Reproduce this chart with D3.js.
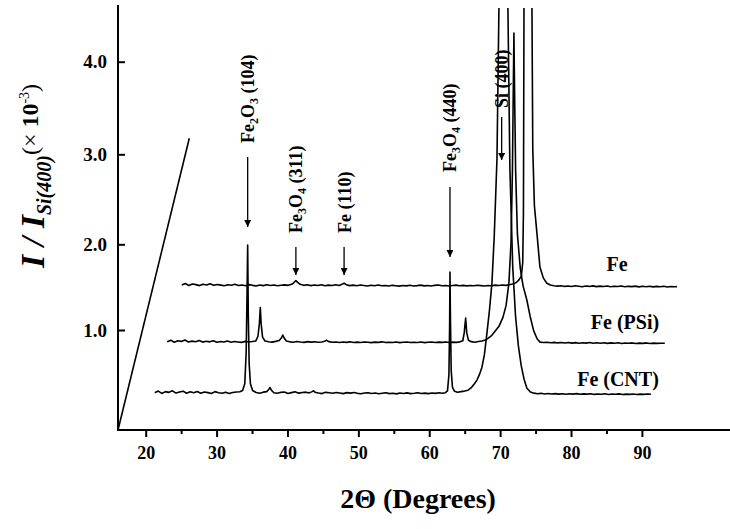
<!DOCTYPE html>
<html><head><meta charset="utf-8">
<script src="https://cdn.jsdelivr.net/npm/d3@7"></script>
<style>
body{margin:0;background:#fff}
svg{display:block}
text{font-family:"Liberation Serif","Times New Roman",serif;font-weight:bold;fill:#000}
</style>
</head><body>
<svg id="chart" width="730" height="529"></svg>
<script>
// ---------- data ----------
const xTicks = [20,30,40,50,60,70,80,90];
const xMinorTicks = [25,35,45,55,65,75,85];
const yTicks = [1.0,2.0,3.0,4.0];
const seriesNames = ["Fe","Fe (PSi)","Fe (CNT)"];

// [2θ, I/I_Si(400) ×10^-3]
const feData = [[20.4,.102],[20.9,.118],[21.4,.096],[21.9,.112],[22.4,.105],[22.9,.094],[23.4,.110],[23.9,.101],[24.4,.115],[24.9,.097],[25.4,.106],[25.9,.099],[26.4,.092],[26.9,.104],[27.4,.098],[27.9,.108],[28.4,.095],[28.9,.101],[29.4,.093],[29.9,.105],[30.4,.097],[30.9,.090],[31.4,.100],[31.9,.094],[32.4,.103],[32.9,.096],[33.4,.100],[33.9,.092],[34.4,.098],[34.9,.102],[35.4,.097],[35.9,.108],[36.2,.125],[36.5,.150],[36.75,.130],[37.1,.108],[37.6,.097],[38.1,.103],[38.6,.094],[39.1,.100],[39.6,.095],[40.1,.104],[40.6,.093],[41.1,.099],[41.6,.096],[42.1,.103],[42.6,.095],[43.0,.108],[43.3,.120],[43.6,.104],[44.1,.094],[44.6,.099],[45.1,.092],[45.6,.100],[46.1,.096],[46.6,.090],[47.1,.098],[47.6,.093],[48.1,.101],[48.6,.092],[49.1,.096],[49.6,.089],[50.1,.097],[50.6,.093],[51.1,.088],[51.6,.095],[52.1,.091],[52.6,.098],[53.1,.090],[53.6,.094],[54.1,.099],[54.6,.091],[55.1,.095],[55.6,.089],[56.1,.097],[56.6,.100],[57.1,.092],[57.6,.096],[58.1,.090],[58.6,.095],[59.1,.099],[59.6,.093],[60.1,.097],[60.6,.091],[61.1,.095],[61.6,.092],[62.1,.098],[62.6,.094],[63.1,.090],[63.6,.096],[64.1,.093],[64.6,.099],[65.1,.095],[65.6,.100],[66.1,.097],[66.6,.104],[67.1,.112],[67.6,.128],[68.0,.16],[68.3,.20],[68.5,.35],[68.6,.9],[68.68,3.2],[69.24,30],[69.8,3.2],[69.92,1.6],[70.15,.98],[70.5,.68],[70.93,.30],[71.4,.18],[71.9,.12],[72.4,.100],[72.9,.092],[73.4,.088],[73.9,.093],[74.4,.085],[74.9,.090],[75.4,.084],[75.9,.092],[76.4,.087],[76.9,.082],[77.4,.089],[77.9,.085],[78.4,.091],[78.9,.083],[79.4,.088],[79.9,.084],[80.4,.090],[80.9,.082],[81.4,.087],[81.9,.084],[82.4,.089],[82.9,.081],[83.4,.086],[83.9,.083],[84.4,.088],[84.9,.080],[85.4,.086],[85.9,.082],[86.4,.087],[86.9,.080],[87.4,.085],[87.9,.082],[88.4,.086],[88.9,.079],[89.4,.084],[89.9,.081],[90.25,.083]];

const psiData = [[20.3,.100],[20.8,.116],[21.3,.094],[21.8,.110],[22.3,.103],[22.8,.118],[23.3,.097],[23.8,.106],[24.3,.099],[24.8,.112],[25.3,.095],[25.8,.104],[26.3,.098],[26.8,.109],[27.3,.093],[27.8,.102],[28.3,.096],[28.8,.107],[29.3,.094],[29.8,.101],[30.3,.097],[30.8,.092],[31.3,.103],[31.8,.096],[32.3,.101],[32.8,.108],[33.1,.16],[33.3,.30],[33.43,.478],[33.55,.30],[33.75,.15],[34.1,.108],[34.6,.099],[35.1,.095],[35.6,.103],[36.1,.112],[36.4,.14],[36.6,.174],[36.8,.14],[37.1,.108],[37.6,.098],[38.1,.094],[38.6,.101],[39.1,.096],[39.6,.092],[40.1,.100],[40.6,.095],[41.1,.099],[41.6,.093],[42.1,.097],[42.5,.104],[42.8,.115],[43.1,.100],[43.6,.094],[44.1,.097],[44.6,.091],[45.1,.096],[45.6,.092],[46.1,.098],[46.6,.090],[47.1,.095],[47.6,.091],[48.1,.097],[48.6,.093],[49.1,.089],[49.6,.095],[50.1,.092],[50.6,.098],[51.1,.090],[51.6,.094],[52.1,.091],[52.6,.096],[53.1,.089],[53.6,.093],[54.1,.097],[54.6,.090],[55.1,.094],[55.6,.091],[56.1,.096],[56.6,.089],[57.1,.093],[57.6,.097],[58.1,.090],[58.6,.095],[59.1,.092],[59.6,.097],[60.1,.091],[60.6,.095],[61.1,.092],[61.6,.098],[62.0,.11],[62.2,.20],[62.4,.363],[62.55,.20],[62.8,.115],[63.2,.100],[63.7,.094],[64.2,.102],[64.7,.108],[65.2,.118],[65.6,.14],[66.1,.17],[66.6,.22],[67.1,.27],[67.66,.37],[68.1,.50],[68.5,.75],[68.8,1.2],[69.0,2.0],[69.12,2.9],[69.21,3.53],[69.3,2.9],[69.45,2.0],[69.7,1.3],[70.1,.92],[70.5,.72],[71.04,.56],[71.5,.38],[72.0,.22],[72.5,.13],[72.9,.095],[73.4,.090],[73.9,.094],[74.4,.088],[74.9,.092],[75.4,.086],[75.9,.091],[76.4,.085],[76.9,.090],[77.4,.084],[77.9,.089],[78.4,.083],[78.9,.088],[79.4,.084],[79.9,.090],[80.4,.082],[80.9,.087],[81.4,.083],[81.9,.088],[82.4,.081],[82.9,.086],[83.4,.083],[83.9,.087],[84.4,.080],[84.9,.085],[85.4,.082],[85.9,.086],[86.4,.080],[86.9,.084],[87.4,.081],[87.9,.086],[88.4,.080],[88.9,.084],[89.4,.081],[89.9,.083],[90.5,.082]];

const cntData = [[20.3,.100],[20.8,.118],[21.3,.092],[21.8,.112],[22.3,.104],[22.8,.121],[23.3,.096],[23.8,.108],[24.3,.117],[24.8,.094],[25.3,.110],[25.8,.099],[26.3,.114],[26.8,.095],[27.3,.107],[27.8,.101],[28.3,.091],[28.8,.112],[29.3,.100],[29.8,.094],[30.3,.106],[30.8,.090],[31.3,.103],[31.8,.108],[32.3,.110],[32.7,.125],[33.0,.20],[33.2,.55],[33.32,1.20],[33.41,1.74],[33.5,.95],[33.62,.42],[33.8,.20],[34.1,.125],[34.6,.102],[35.1,.094],[35.6,.106],[36.1,.112],[36.4,.138],[36.56,.158],[36.75,.128],[37.1,.100],[37.6,.093],[38.1,.104],[38.6,.108],[39.1,.092],[39.6,.101],[40.1,.110],[40.6,.095],[41.1,.102],[41.6,.106],[42.1,.098],[42.5,.112],[42.7,.122],[42.9,.106],[43.4,.097],[43.9,.090],[44.4,.104],[44.9,.099],[45.4,.094],[45.9,.103],[46.4,.097],[46.9,.090],[47.4,.101],[47.9,.095],[48.4,.102],[48.9,.093],[49.4,.088],[49.9,.097],[50.4,.100],[50.9,.092],[51.4,.096],[51.9,.089],[52.4,.094],[52.9,.099],[53.4,.090],[53.9,.094],[54.4,.087],[54.9,.096],[55.4,.092],[55.9,.098],[56.4,.090],[56.9,.094],[57.4,.099],[57.9,.091],[58.4,.095],[58.9,.090],[59.4,.097],[59.9,.093],[60.4,.099],[60.9,.094],[61.3,.100],[61.6,.12],[61.8,.30],[61.9,.85],[61.95,1.44],[62.02,.90],[62.12,.35],[62.3,.16],[62.6,.115],[63.0,.105],[63.5,.112],[64.0,.118],[64.5,.128],[65.0,.16],[65.4,.20],[65.75,.24],[66.1,.30],[66.45,.38],[66.8,.52],[67.16,.76],[67.5,1.0],[67.87,1.32],[68.2,1.85],[68.58,2.7],[68.86,4.4],[69.1,9],[69.49,40],[69.9,9],[70.12,4.4],[70.4,2.6],[70.8,1.5],[71.2,.95],[71.6,.62],[72.0,.40],[72.4,.25],[72.8,.15],[73.3,.108],[73.8,.095],[74.3,.088],[74.8,.093],[75.3,.086],[75.8,.091],[76.3,.085],[76.8,.090],[77.3,.084],[77.8,.089],[78.3,.083],[78.8,.088],[79.3,.084],[79.8,.090],[80.3,.082],[80.8,.087],[81.3,.084],[81.8,.089],[82.3,.081],[82.8,.086],[83.3,.083],[83.8,.088],[84.3,.080],[84.8,.085],[85.3,.082],[85.8,.087],[86.3,.080],[86.8,.084],[87.3,.081],[87.8,.086],[88.3,.080],[88.8,.084],[89.3,.081],[89.8,.085],[90.3,.083]];

// peak annotations: text pieces ([text, isSubscript]), series the peak sits on, 2θ of arrow
const annotationTexts = [
  [["Fe"],["2",1],["O"],["3",1],[" (104)"]],
  [["Fe"],["3",1],["O"],["4",1],[" (311)"]],
  [["Fe (110)"]],
  [["Fe"],["3",1],["O"],["4",1],[" (440)"]],
  [["Si (400)"]]
];
const annotationSeries = ["Fe (CNT)","Fe","Fe","Fe (CNT)","Fe (CNT)"];
const annotationAngles = [33.41,36.5,43.3,61.95,69.24];

// ---------- layout ----------
const W = 730, H = 529;
const originX = 118, floorY = 430;
const depthTip = {dx: 71.3, dy: 291.7};          // far end of the depth edge
const depthFrac = {"Fe":0.466, "Fe (PSi)":0.272, "Fe (CNT)":0.097};
const labelPos = {"Fe":[617,271], "Fe (PSi)":[625,329], "Fe (CNT)":[618,386]};
const annotLayout = [ // [text bottom y, arrow start y, arrow tip y]
  [143,157,227],[233,247,275],[233,247,275],[172,187,257],[108,117,160]
];

const svg = d3.select("#chart");

const x = d3.scaleLinear().domain([20,90]).range([145.7,641.9]);
const yAxisScale = d3.scaleLinear().domain([1,2,3,4]).range([330,244.3,154.3,61.7]);
const yI = d3.scaleLinear().domain([0,1]).range([0,90]); // intensity -> px height

const px = (s,a) => x(a) + depthFrac[s]*depthTip.dx;
const py = (s,v) => floorY - depthFrac[s]*depthTip.dy - yI(v);

// clip
svg.append("clipPath").attr("id","plotclip").append("rect")
  .attr("x",originX).attr("y",8).attr("width",W-originX).attr("height",floorY-8);

// traces
const seriesData = {"Fe":feData, "Fe (PSi)":psiData, "Fe (CNT)":cntData};
const g = svg.append("g").attr("clip-path","url(#plotclip)");
seriesNames.forEach(s => {
  const line = d3.line().x(d => px(s,d[0])).y(d => py(s,d[1]));
  g.append("path").datum(seriesData[s]).attr("d",line)
    .attr("fill","none").attr("stroke","#000").attr("stroke-width",1.6)
    .attr("stroke-linejoin","round");
});

// series labels
seriesNames.forEach(s => {
  svg.append("text").attr("x",labelPos[s][0]).attr("y",labelPos[s][1])
    .attr("text-anchor","middle").attr("font-size",20).text(s);
});

// axes lines
svg.append("line").attr("x1",originX).attr("x2",W).attr("y1",floorY).attr("y2",floorY)
  .attr("stroke","#000").attr("stroke-width",2);
svg.append("line").attr("x1",originX).attr("x2",originX).attr("y1",5).attr("y2",floorY+1)
  .attr("stroke","#000").attr("stroke-width",2);
svg.append("line").attr("x1",originX).attr("y1",floorY)
  .attr("x2",originX+depthTip.dx).attr("y2",floorY-depthTip.dy)
  .attr("stroke","#000").attr("stroke-width",1.6);

// x axis
const xAxis = svg.append("g").attr("transform",`translate(0,${floorY})`)
  .call(d3.axisBottom(x).tickValues(xTicks).tickSize(7).tickPadding(9).tickFormat(d3.format("d")));
xAxis.select(".domain").remove();
xAxis.selectAll("line").attr("stroke-width",2);
xAxis.selectAll("text").attr("font-size",18).attr("font-family",null);
const xMinor = svg.append("g").attr("transform",`translate(0,${floorY})`)
  .call(d3.axisBottom(x).tickValues(xMinorTicks).tickSize(4).tickFormat(""));
xMinor.select(".domain").remove();
xMinor.selectAll("line").attr("stroke-width",2);

// y axis
const yAxis = svg.append("g").attr("transform",`translate(${originX},0)`)
  .call(d3.axisLeft(yAxisScale).tickValues(yTicks).tickSizeInner(-7).tickSizeOuter(0)
    .tickPadding(11).tickFormat(d3.format(".1f")));
yAxis.select(".domain").remove();
yAxis.selectAll("line").attr("stroke-width",2);
yAxis.selectAll("text").attr("font-size",19).attr("font-family",null);

// axis titles
svg.append("text").attr("x",418).attr("y",508).attr("text-anchor","middle")
  .attr("font-size",28).text("2\u0398 (Degrees)");

const yt = svg.append("text").attr("transform","translate(44,268) rotate(-90)");
yt.append("tspan").attr("font-size",34).attr("font-style","italic").text("I / I");
yt.append("tspan").attr("font-size",20).attr("font-style","italic").attr("dy",7).text("Si(400)");
yt.append("tspan").attr("font-size",24).attr("font-weight","normal").attr("dy",-13).text("(\u00d7 ");
yt.append("tspan").attr("font-size",24).text("10");
yt.append("tspan").attr("font-size",14).attr("font-weight","normal").attr("dy",-9).text("-3");
yt.append("tspan").attr("font-size",24).attr("font-weight","normal").attr("dy",9).text(")");

// arrow marker
svg.append("defs").append("marker").attr("id","arrowhead")
  .attr("viewBox","0 0 10 10").attr("refX",10).attr("refY",5)
  .attr("markerWidth",7).attr("markerHeight",7).attr("markerUnits","userSpaceOnUse")
  .attr("orient","auto")
  .append("path").attr("d","M0,0 L10,5 L0,10 Z").attr("fill","#000");

// annotations
annotationTexts.forEach((parts,i) => {
  const ax = px(annotationSeries[i], annotationAngles[i]);
  const [tb, a0, a1] = annotLayout[i];
  svg.append("line").attr("x1",ax).attr("x2",ax).attr("y1",a0).attr("y2",a1)
    .attr("stroke","#000").attr("stroke-width",1.3).attr("marker-end","url(#arrowhead)");
  const t = svg.append("text").attr("transform",`translate(${ax+6.5},${tb}) rotate(-90)`)
    .attr("font-size",18);
  parts.forEach(p => {
    if (p[1]) t.append("tspan").attr("font-size",12).attr("dy",4).text(p[0]);
    else {
      const ts = t.append("tspan").text(p[0]);
      if (t.selectAll("tspan").size() > 1) ts.attr("dy",-4);
    }
  });
});
</script>
</body></html>
